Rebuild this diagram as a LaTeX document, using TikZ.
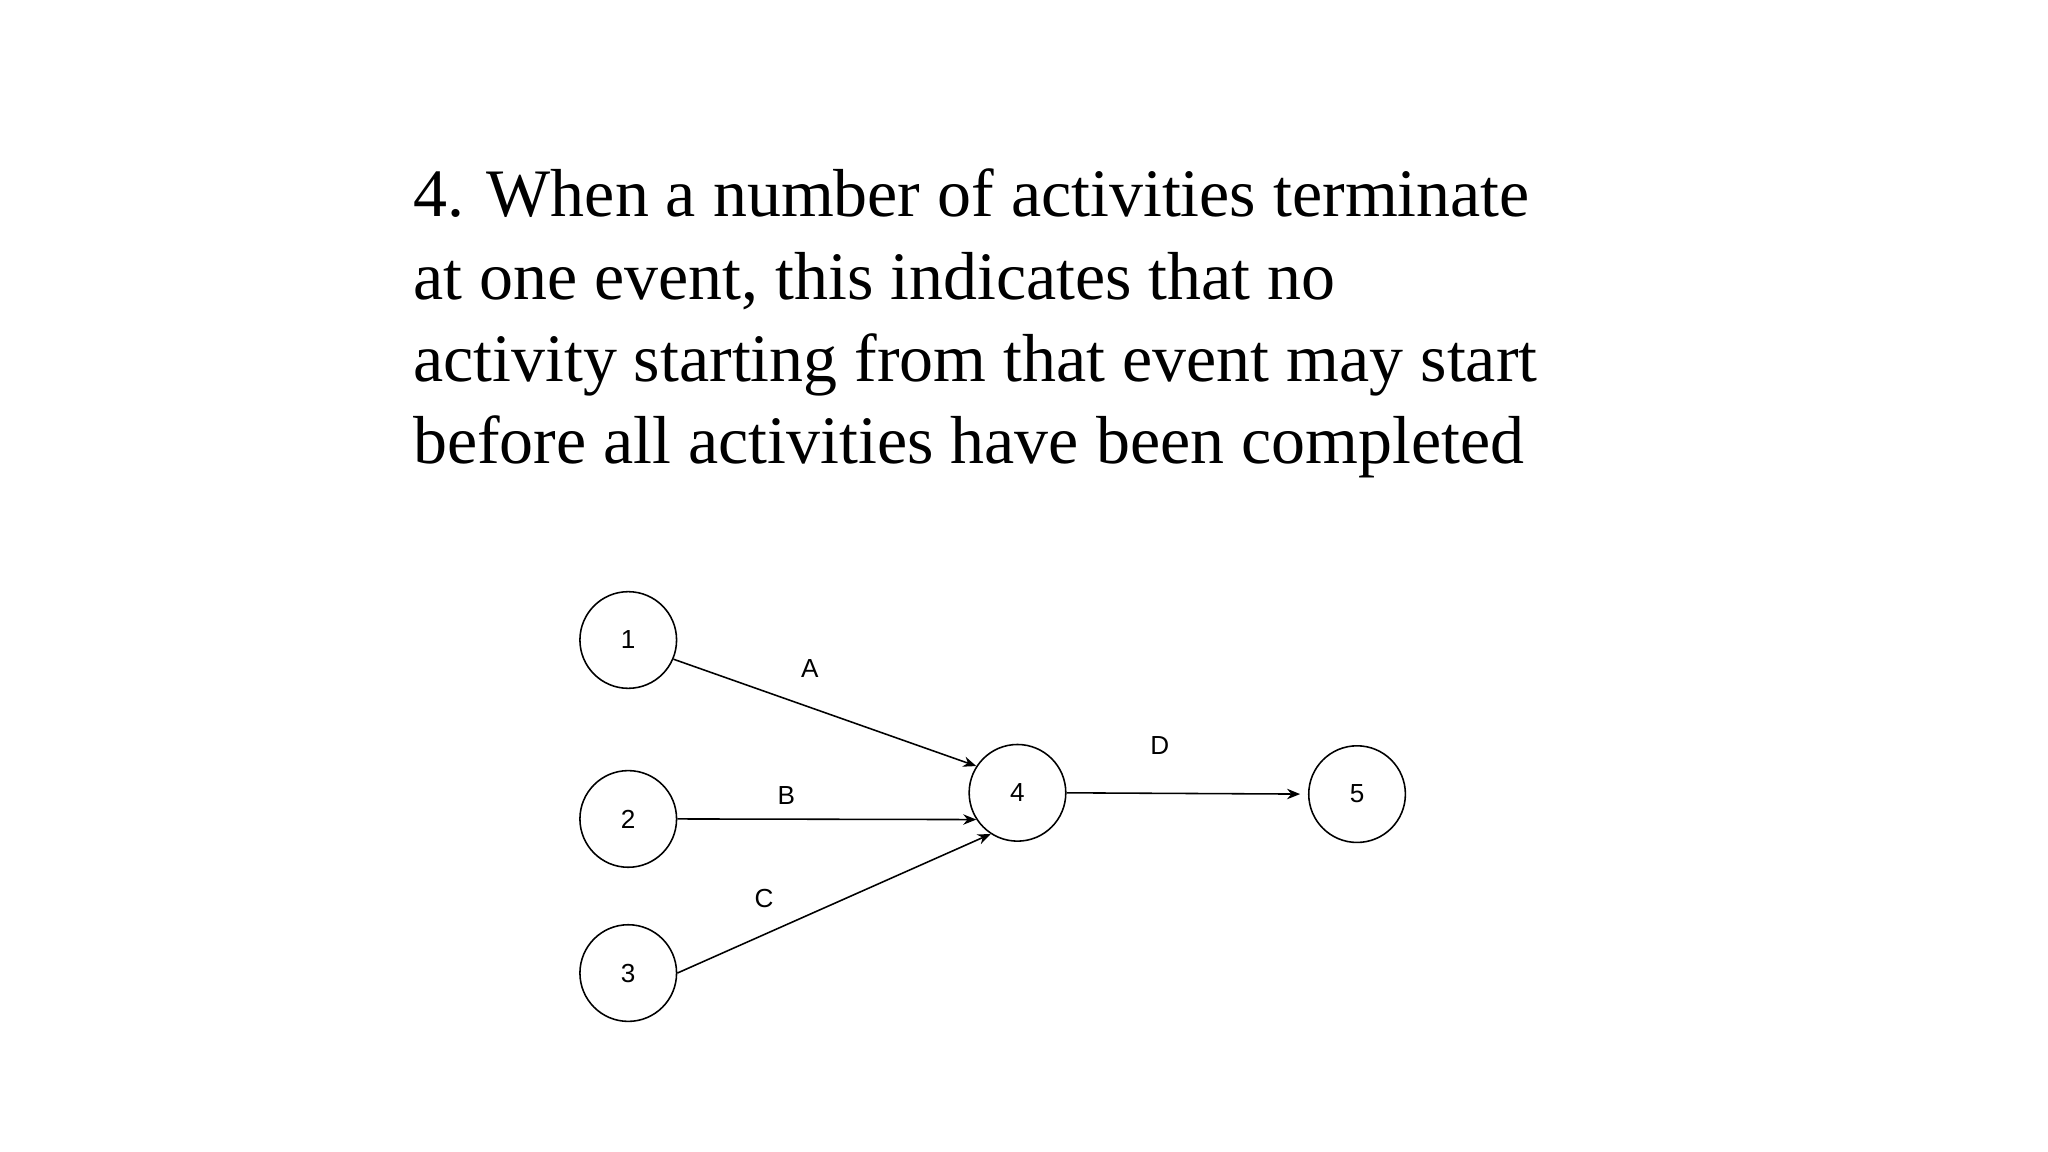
\documentclass[tikz,border=0pt]{standalone}
\usepackage{fontspec}
\setmainfont{Liberation Serif}
\newfontfamily\arial{Liberation Sans}
\usetikzlibrary{arrows.meta}
\begin{document}
\begin{tikzpicture}[x=0.5pt,y=-0.5pt,
  ev/.style={circle,draw,line width=0.6pt,minimum size=37pt,inner sep=0pt,font=\arial\fontsize{10}{12}\selectfont},
  lab/.style={font=\arial\fontsize{10}{12}\selectfont},
  con/.style={line width=0.6pt,-{Stealth[length=5pt,width=4pt]}}]
\useasboundingbox (0,0) rectangle (1568,882);
\node[anchor=base west,inner sep=0pt,align=left,font=\fontsize{26}{31.5}\selectfont] (t) at (316,355)
 {4. When a number of activities terminate\\at one event, this indicates that no\\activity starting from that event may start\\before all activities have been completed};
\node[ev] (n1) at (481,490) {1};
\node[ev] (n2) at (481,627) {2};
\node[ev] (n3) at (481,745) {3};
\node[ev] (n4) at (779,607) {4};
\node[ev] (n5) at (1039,608) {5};
\draw[con] (n1.-23) -- (n4.147);
\draw[con] (n2.east) -- (n4.213);
\draw[con] (n3.east) -- (n4.237);
\draw[con,shorten >=3pt] (n4.east) -- (n5.west);
\node[lab] (la) at (620,512) {A};
\node[lab] (lb) at (602,609) {B};
\node[lab] (lc) at (585,688) {C};
\node[lab] (ld) at (888,571) {D};
\end{tikzpicture}
\end{document}
